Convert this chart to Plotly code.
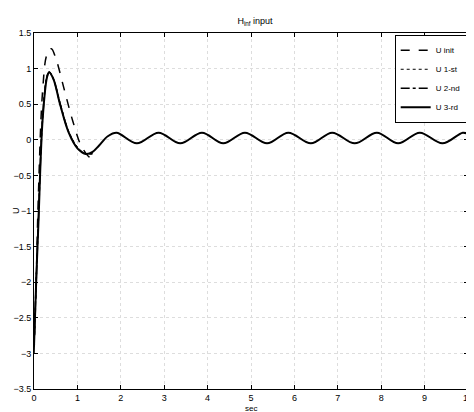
import plotly.graph_objects as go

# solid: U 3-rd
x_3rd = [0, 0.05, 0.1, 0.2, 0.3, 0.35, 0.45, 0.6, 0.8, 1.0, 1.2, 1.35, 1.5, 1.7, 1.9,
         2.37, 2.87, 3.37, 3.87, 4.36, 4.86, 5.37, 5.86, 6.38, 6.87, 7.39, 7.9, 8.39, 8.89, 9.41, 9.88, 10.0]
y_3rd = [-2.9, -2.0, -1.2, 0.3, 0.88, 0.95, 0.85, 0.5, 0.1, -0.12, -0.2, -0.17, -0.08, 0.05, 0.1,
         -0.05, 0.1, -0.05, 0.1, -0.05, 0.1, -0.05, 0.1, -0.05, 0.1, -0.05, 0.1, -0.05, 0.1, -0.05, 0.1, 0.08]

# dashed: U init
x_init = [0, 0.05, 0.1, 0.2, 0.3, 0.4, 0.5, 0.7, 0.9, 1.1, 1.3, 1.37]
y_init = [-3.0, -2.0, -0.8, 0.7, 1.2, 1.28, 1.15, 0.7, 0.25, -0.1, -0.25, -0.22]

# dotted: U 1-st, dash-dot: U 2-nd (mostly hidden under U 3-rd)
x_1st = [0, 0.1, 0.2, 0.3, 0.35, 0.45, 0.6, 0.8, 1.0, 1.2, 1.35]
y_1st = [-2.9, -1.1, 0.35, 0.9, 0.96, 0.86, 0.52, 0.12, -0.1, -0.2, -0.2]
x_2nd = [0, 0.1, 0.2, 0.3, 0.35, 0.45, 0.6, 0.8, 1.0, 1.2, 1.35]
y_2nd = [-2.9, -1.15, 0.32, 0.89, 0.95, 0.85, 0.51, 0.11, -0.11, -0.2, -0.19]

x_ticks = list(range(0, 11))
y_ticks = [1.5, 1, 0.5, 0, -0.5, -1, -1.5, -2, -2.5, -3, -3.5]

fig = go.Figure()
fig.add_trace(go.Scatter(x=x_init, y=y_init, mode='lines', name='U init',
                         line=dict(color='black', width=1.5, dash='dash', shape='spline')))
fig.add_trace(go.Scatter(x=x_1st, y=y_1st, mode='lines', name='U 1-st',
                         line=dict(color='black', width=1, dash='dot', shape='spline')))
fig.add_trace(go.Scatter(x=x_2nd, y=y_2nd, mode='lines', name='U 2-nd',
                         line=dict(color='black', width=1.5, dash='dashdot', shape='spline')))
fig.add_trace(go.Scatter(x=x_3rd, y=y_3rd, mode='lines', name='U 3-rd',
                         line=dict(color='black', width=2, shape='spline')))

axis = dict(showline=True, linecolor='black', linewidth=1, mirror='ticks',
            ticks='inside', ticklen=4, tickcolor='black', zeroline=False,
            showgrid=True, gridcolor='#dddddd', griddash='dot', gridwidth=1,
            tickfont=dict(size=9, color='black'), automargin=False)
fig.update_xaxes(range=[0, 10], tickvals=x_ticks, **axis)
fig.update_yaxes(range=[-3.5, 1.5], tickvals=y_ticks, **axis)

# page body has an 8px margin, so the figure is 8px smaller on each side
fig.update_layout(
    width=466, height=404,
    margin=dict(l=26, r=6, t=25, b=23),
    paper_bgcolor='white', plot_bgcolor='white',
    font=dict(family='Liberation Sans, Arial', color='black', size=9),
    title=dict(text='H<sub>inf</sub> input', x=0.53, xanchor='center', y=0.975,
               font=dict(size=9, color='black')),
    legend=dict(x=0.997, y=0.995, xanchor='right', yanchor='top', bgcolor='white',
                bordercolor='black', borderwidth=1, font=dict(size=8, color='black'),
                tracegroupgap=0, itemwidth=30),
    showlegend=True,
    annotations=[
        dict(text='sec', xref='paper', yref='paper', x=0.5, y=0, yshift=-13,
             showarrow=False, yanchor='top', font=dict(size=8, color='black')),
        dict(text='U', xref='paper', yref='paper', x=0, y=0.5, xshift=-18, textangle=-90,
             showarrow=False, xanchor='center', font=dict(size=9, color='black')),
    ],
)

fig.write_html("out.html")
